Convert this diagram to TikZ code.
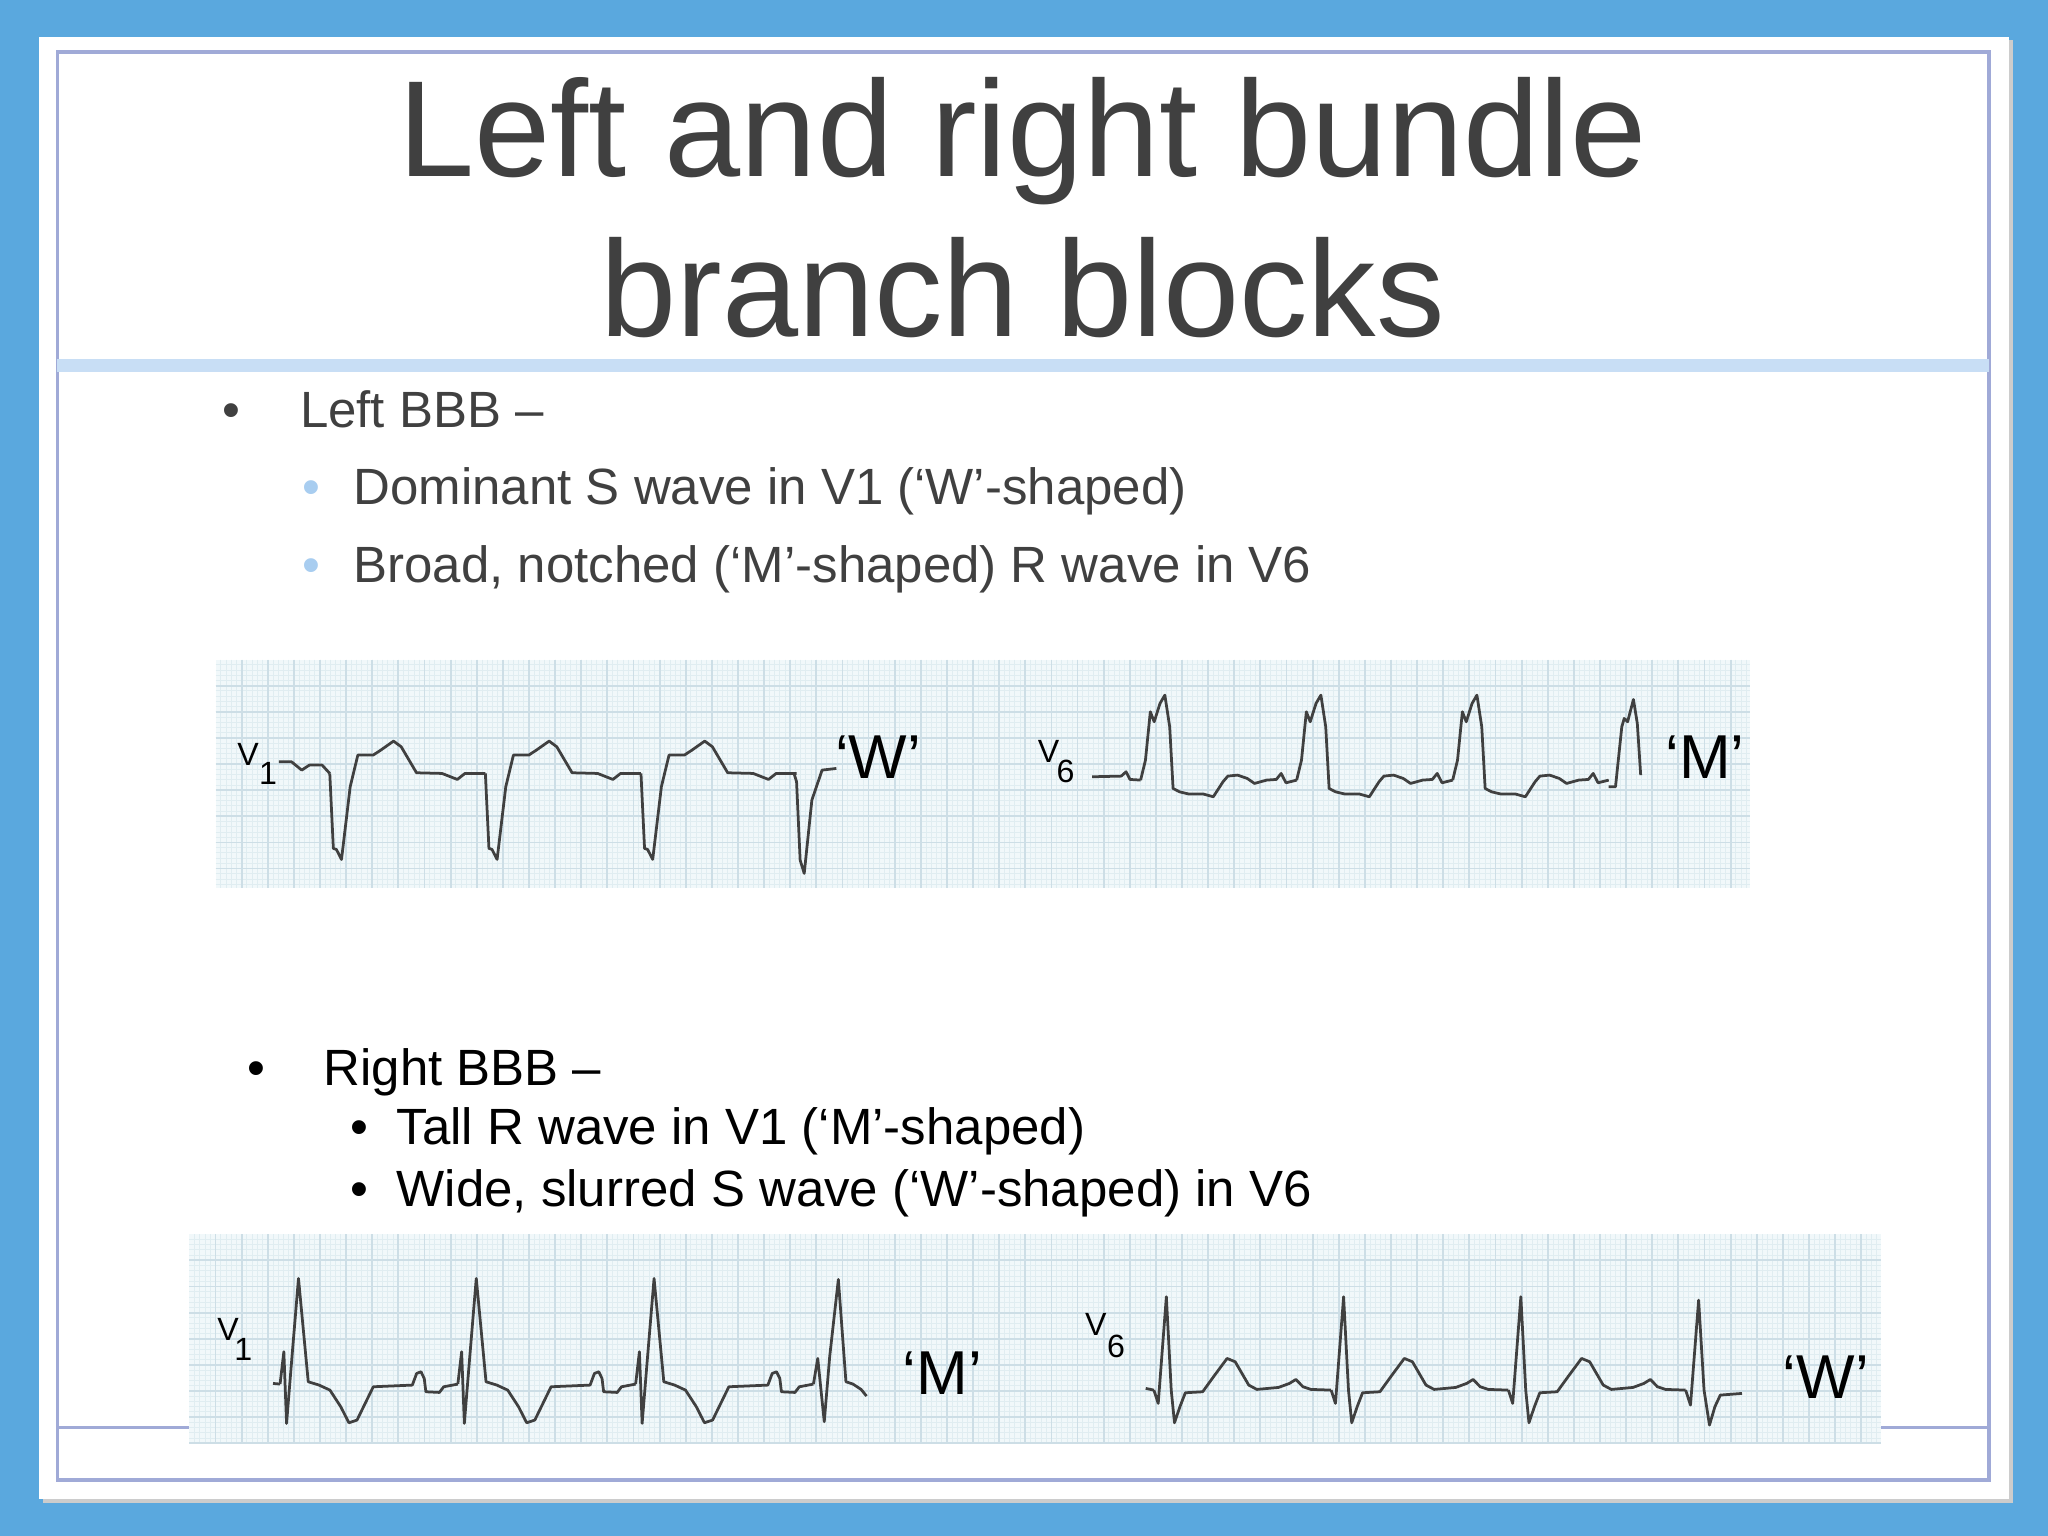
\documentclass[tikz,border=0pt]{standalone}
\usepackage{fontspec}
\setmainfont{Liberation Sans}
\begin{document}
\begin{tikzpicture}[x=0.01cm,y=-0.01cm,
  txt/.style={anchor=base west,inner sep=0,font=\fontsize{11.1}{12}\selectfont},
  ecg/.style={line width=0.6pt,color=black!75,line join=round},
  lab/.style={font=\fontsize{13.5}{14}\selectfont,inner sep=0},
  vl/.style={font=\fontsize{7}{8}\selectfont,inner sep=0},
  strip/.style={fill={rgb,255:red,241;green,248;blue,250}}]
\definecolor{bgblue}{RGB}{90,168,222}
\definecolor{frm}{RGB}{160,170,215}
\definecolor{band}{RGB}{200,222,245}
\definecolor{tgray}{RGB}{64,64,64}
\definecolor{dotb}{RGB}{168,205,240}
\definecolor{gmin}{RGB}{224,237,241}
\definecolor{gmaj}{RGB}{205,222,230}
\useasboundingbox (0,0) rectangle (1568,1176);
\fill[bgblue] (0,0) rectangle (1568,1176);
\fill[black!20] (33,31) rectangle (1541,1151);
\fill[white] (30,28) rectangle (1538,1148);
\draw[frm,line width=0.8pt] (44,40) rectangle (1523,1133);
\draw[frm,line width=0.6pt] (44,1093) -- (1523,1093);
\fill[band] (44,275) rectangle (1523,285);
% title
\node[anchor=base,inner sep=0,text=tgray,font=\fontsize{29.8}{32}\selectfont] (t1) at (783,135) {Left and right bundle};
\node[anchor=base,inner sep=0,text=tgray,font=\fontsize{29.8}{32}\selectfont] (t2) at (783,258) {branch blocks};
% LBBB bullets
\node[txt,text=tgray] (b1) at (170,327) {•};
\node[txt,text=tgray] (l1) at (229,327) {Left BBB –};
\node[txt,text=dotb] (b2) at (231,386) {•};
\node[txt,text=tgray] (l2) at (270,386) {Dominant S wave in V1 (‘W’-shaped)};
\node[txt,text=dotb] (b3) at (231,446) {•};
\node[txt,text=tgray] (l3) at (270,446) {Broad, notched (‘M’-shaped) R wave in V6};
% RBBB bullets
\node[txt] (b4) at (189,831) {•};
\node[txt] (r1) at (247,831) {Right BBB –};
\node[txt] (b5) at (268,876) {•};
\node[txt] (r2) at (303,876) {Tall R wave in V1 (‘M’-shaped)};
\node[txt] (b6) at (268,924) {•};
\node[txt] (r3) at (303,924) {Wide, slurred S wave (‘W’-shaped) in V6};
% strips
\fill[strip] (165,505) rectangle (1340,680);
\fill[strip] (145,945) rectangle (1440,1105);
\foreach \x in {169,173,...,1340} \draw[gmin,line width=0.2pt] (\x,505)--(\x,680);
\foreach \y in {509,513,...,680} \draw[gmin,line width=0.2pt] (165,\y)--(1340,\y);
\foreach \x in {185,205,...,1340} \draw[gmaj,line width=0.4pt] (\x,505)--(\x,680);
\foreach \y in {525,545,...,680} \draw[gmaj,line width=0.4pt] (165,\y)--(1340,\y);
\foreach \x in {149,153,...,1440} \draw[gmin,line width=0.2pt] (\x,945)--(\x,1105);
\foreach \y in {949,953,...,1105} \draw[gmin,line width=0.2pt] (145,\y)--(1440,\y);
\foreach \x in {165,185,...,1440} \draw[gmaj,line width=0.4pt] (\x,945)--(\x,1105);
\foreach \y in {965,985,...,1105} \draw[gmaj,line width=0.4pt] (145,\y)--(1440,\y);
% LBBB V1
\begin{scope}[shift={(164.6,505.4)},xscale=0.3906,yscale=0.2552]
\node[vl] (v1a) at (65,283) {V};
\node[vl] (v1b) at (104,340) {1};
\node[lab] (wa) at (1300,290) {‘W’};
\draw[ecg] (125,305)--(150,305)--(170,330)--(185,315)--(210,315)--(225,340);
\foreach \k in {0,1,2}{
\begin{scope}[shift={(\k*305,0)}]
\draw[ecg] (225,340)--(232,565)--(238,568)--(248,598)--(265,380)--(280,285)--(310,285)--(325,270)--(350,243)--(365,260)--(395,338)--(445,340)--(475,358)--(490,340)--(515,340)--(530,340);
\end{scope}}
\draw[ecg] (1135,340)--(1140,365)--(1147,600)--(1155,640)--(1170,420)--(1190,330)--(1218,325);
\end{scope}
% LBBB V6
\begin{scope}[shift={(765.7,505.4)},xscale=0.371,yscale=0.2552]
\node[vl] (v6a) at (100,275) {V};
\node[vl] (v6b) at (135,335) {6};
\node[lab] (ma) at (1455,290) {‘M’};
\draw[ecg] (190,350)--(250,348)--(260,335)--(268,358)--(290,360);
\foreach \k in {0,1,2}{
\begin{scope}[shift={(\k*322,0)}]
\draw[ecg] (290,360)--(300,300)--(310,155)--(318,185)--(330,130)--(340,105)--(350,200)--(357,385)--(370,395)--(390,402)--(420,402)--(440,410)--(460,365)--(470,348)--(490,345)--(510,355)--(525,370)--(550,360)--(570,358)--(580,340)--(590,368)--(612,360);
\end{scope}}
\draw[ecg] (1256,380)--(1270,380)--(1283,200)--(1288,175)--(1295,185)--(1307,118)--(1315,190)--(1322,345);
\end{scope}
% RBBB V1
\begin{scope}[shift={(144.7,941.8)},xscale=0.415,yscale=0.2552]
\node[vl] (v1c) at (72,298) {V};
\node[vl] (v1d) at (100,358) {1};
\node[lab] (mb) at (1390,430) {‘M’};
\draw[ecg] (155,460)--(168,462);
\foreach \k in {0,1,2}{
\begin{scope}[shift={(\k*328,0)}]
\draw[ecg] (168,462)--(175,365)--(180,580)--(190,380)--(202,145)--(220,455)--(240,465)--(260,480)--(280,530)--(295,578)--(310,570)--(340,470)--(412,465)--(420,430)--(428,425)--(434,445)--(437,485)--(462,487)--(470,470)--(496,462);
\end{scope}}
\draw[ecg] (1152,462)--(1160,385)--(1172,575)--(1182,380)--(1198,148)--(1212,455)--(1225,462)--(1240,478)--(1250,498);
\end{scope}
% RBBB V6
\begin{scope}[shift={(796.3,941.8)},xscale=0.415,yscale=0.2552]
\node[vl] (v6c) at (103,283) {V};
\node[vl] (v6d) at (140,350) {6};
\node[lab] (wb) at (1450,440) {‘W’};
\draw[ecg] (195,475)--(210,480);
\foreach \k in {0,1,2}{
\begin{scope}[shift={(\k*327,0)}]
\draw[ecg] (210,480)--(218,520)--(233,200)--(242,480)--(248,578)--(258,530)--(268,488)--(300,485)--(320,440)--(345,385)--(360,395)--(385,465)--(400,478)--(440,472)--(460,460)--(472,448)--(485,470)--(500,478)--(537,480);
\end{scope}}
\draw[ecg] (1191,480)--(1200,525)--(1215,210)--(1225,480)--(1235,585)--(1245,530)--(1255,495)--(1295,490);
\end{scope}
\end{tikzpicture}
\end{document}
